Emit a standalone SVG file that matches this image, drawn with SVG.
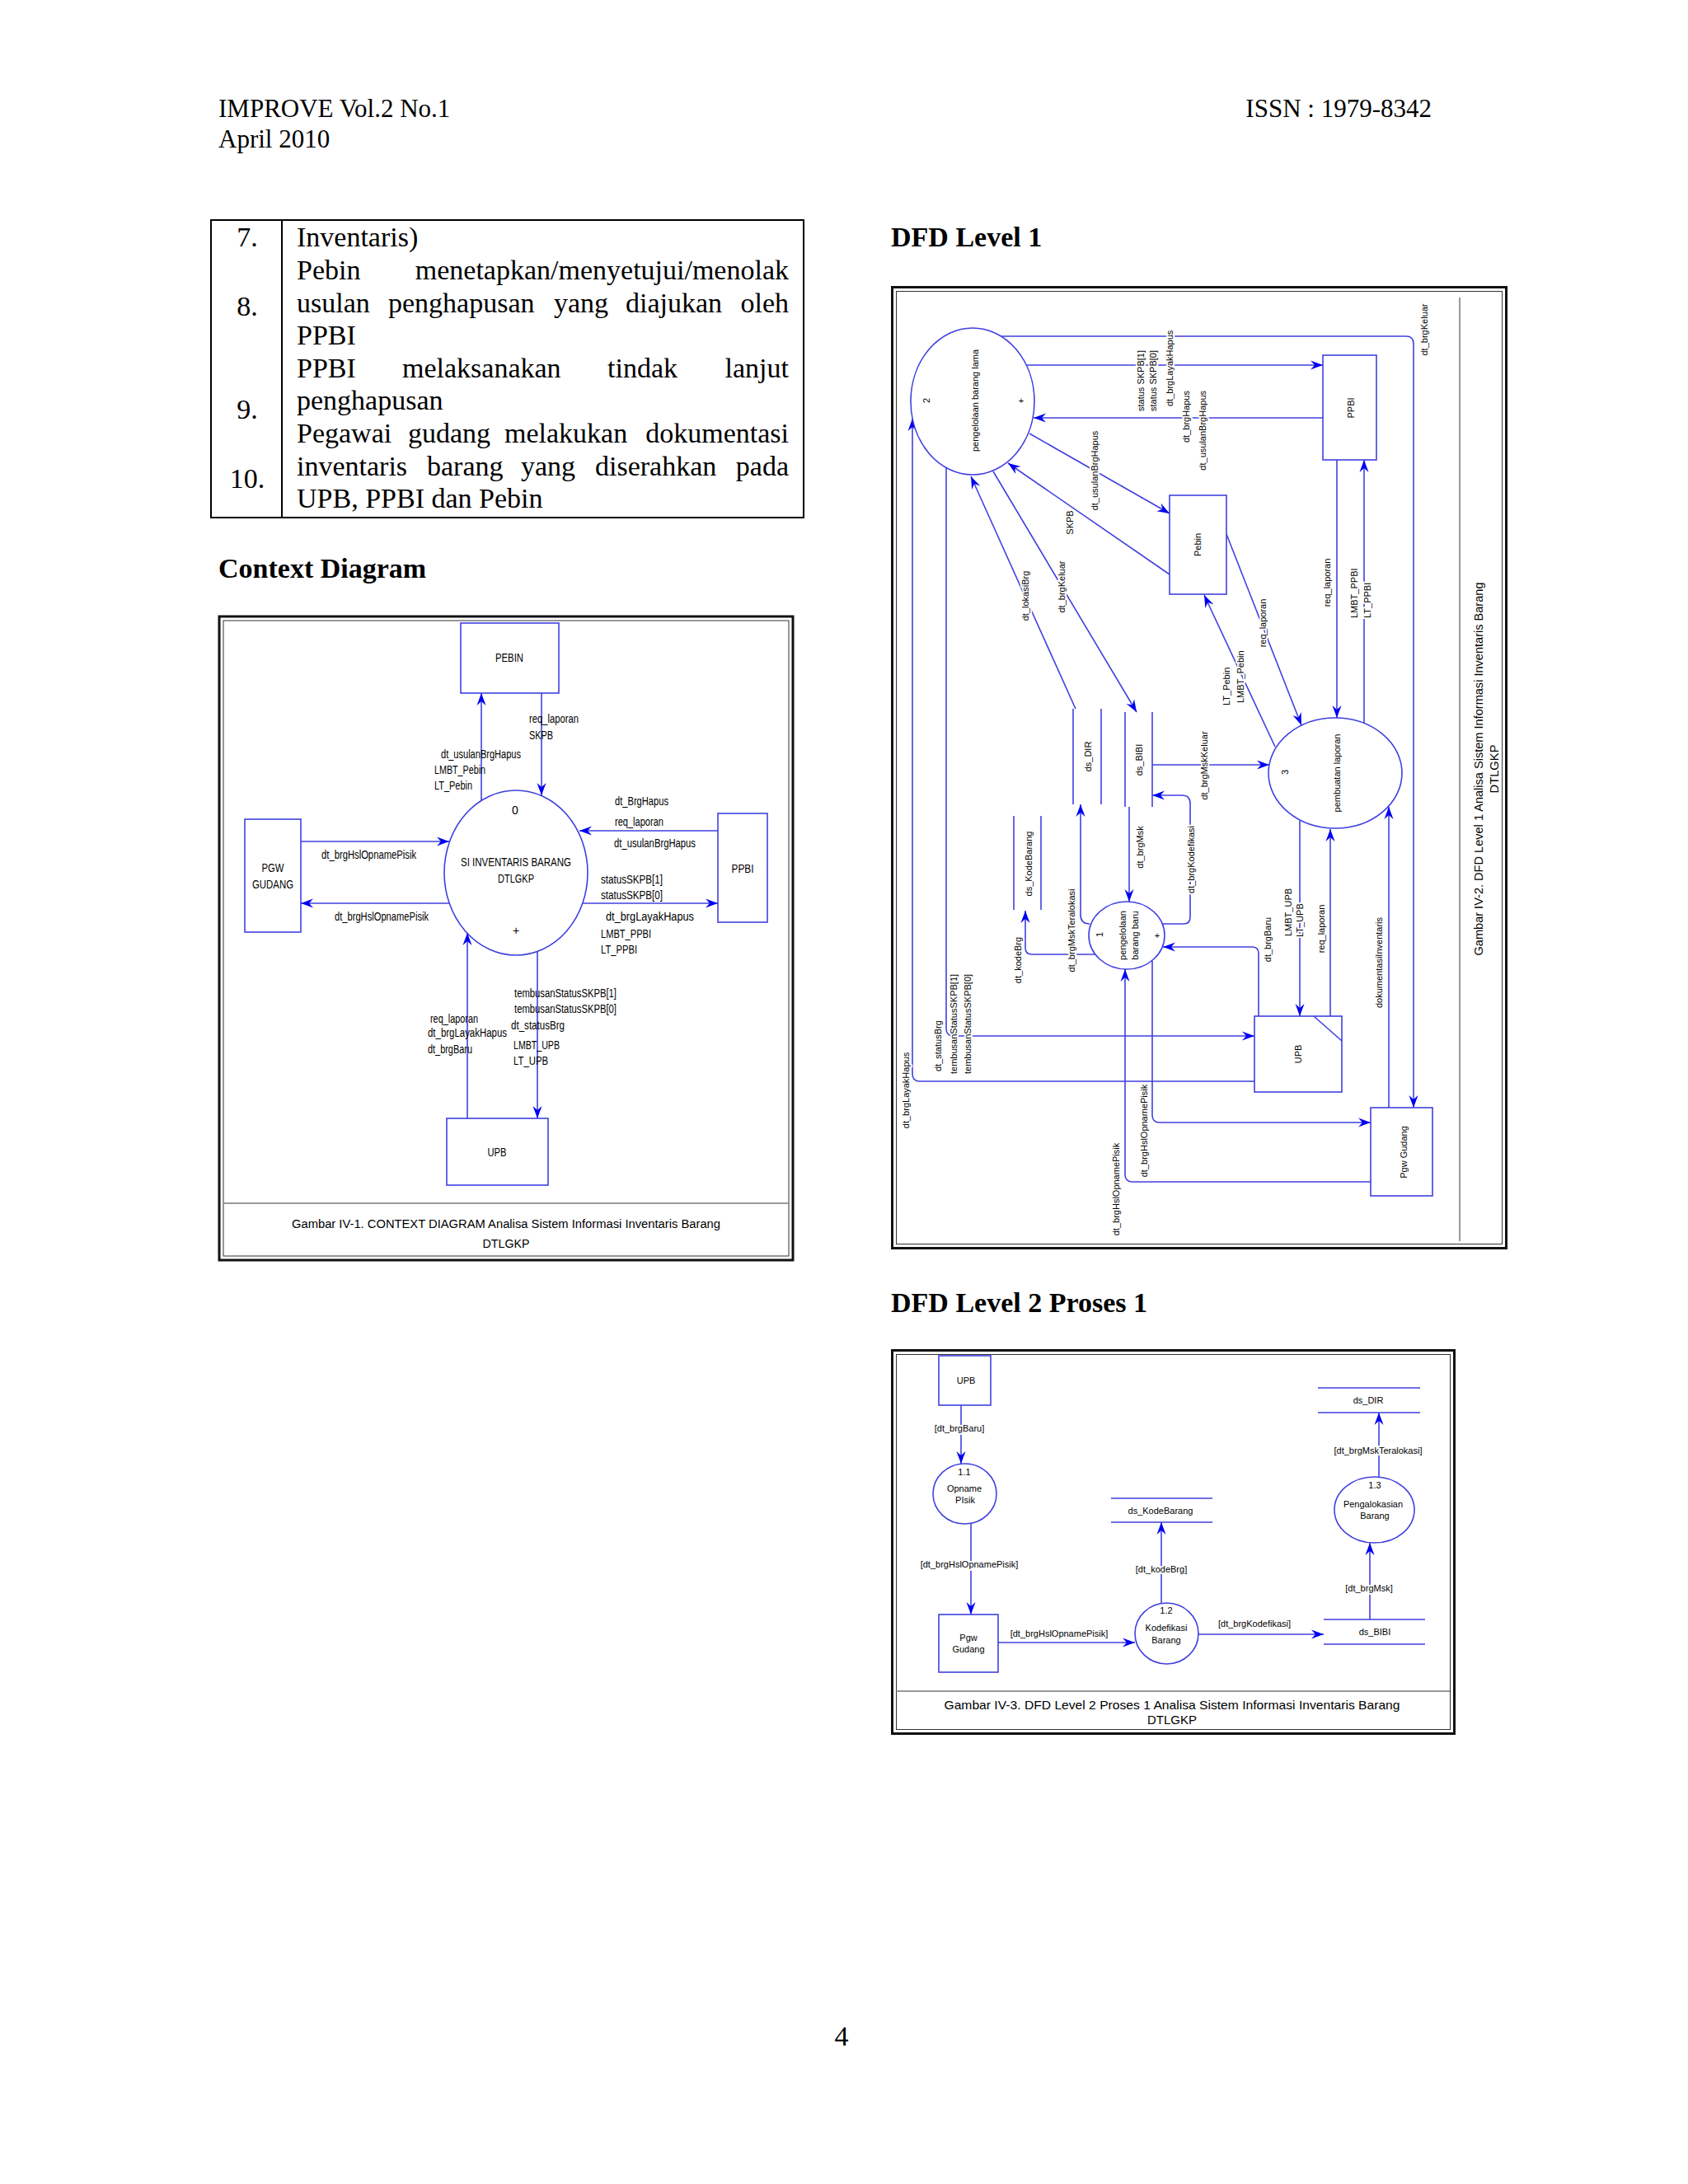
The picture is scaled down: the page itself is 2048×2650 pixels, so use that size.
<svg xmlns="http://www.w3.org/2000/svg" width="2048" height="2650" viewBox="0 0 2048 2650">
<defs>
<style>
.serif{font-family:'Liberation Serif','Times New Roman',serif;fill:#000}
.hd{font-size:31px}
.tb{font-size:34px}
.bold{font-weight:bold}
.ln{fill:none;stroke:#4040E0;stroke-width:1.6}
.nd{fill:#fff;stroke:#4040E0;stroke-width:1.6}
.ds{fill:none;stroke:#4040E0;stroke-width:1.6}
.cx{font-family:'Liberation Sans Narrow','Liberation Sans',Arial,sans-serif;font-size:14px;fill:#000}
.t11{font-family:'Liberation Sans',Arial,sans-serif;font-size:11px;fill:#000;dominant-baseline:central}
.h{stroke:#fff;stroke-width:4px;paint-order:stroke;stroke-linejoin:round}
.m{text-anchor:middle}
.e{text-anchor:end}
.cap{font-family:'Liberation Sans',Arial,sans-serif;font-size:15px;fill:#000}
.frO{fill:none;stroke:#111;stroke-width:3}
.frI{fill:none;stroke:#333;stroke-width:1}
.sep{stroke:#777;stroke-width:1.5}
</style>
<marker id="ah" viewBox="-16 -7 17 14" refX="0" refY="0" markerWidth="17" markerHeight="14" markerUnits="userSpaceOnUse" orient="auto">
<path d="M0,0 L-15,-5.5 L-10,0 L-15,5.5 Z" fill="#0000F0"/>
</marker>
</defs>
<rect width="2048" height="2650" fill="#fff"/>

<!-- header -->
<g id="header" class="serif hd">
<text x="265" y="142">IMPROVE Vol.2 No.1</text>
<text x="265" y="179">April 2010</text>
<text x="1737" y="142" text-anchor="end">ISSN : 1979-8342</text>
</g>

<!-- table -->
<g id="table">
<g stroke="#000" stroke-width="2" fill="none">
<rect x="256" y="267" width="719" height="361"/>
<line x1="342" y1="267" x2="342" y2="628"/>
</g>
<g class="serif tb">
<text x="300" y="299" text-anchor="middle">7.</text>
<text x="300" y="383" text-anchor="middle">8.</text>
<text x="300" y="508" text-anchor="middle">9.</text>
<text x="300" y="592" text-anchor="middle">10.</text>
<text x="360" y="299">Inventaris)</text>
<text x="360" y="339">Pebin</text>
<text x="957" y="339" text-anchor="end">menetapkan/menyetujui/menolak</text>
<text x="360" y="379">usulan</text>
<text x="471" y="379">penghapusan</text>
<text x="672" y="379">yang</text>
<text x="759" y="379">diajukan</text>
<text x="957" y="379" text-anchor="end">oleh</text>
<text x="360" y="418">PPBI</text>
<text x="360" y="458">PPBI</text>
<text x="488" y="458">melaksanakan</text>
<text x="737" y="458">tindak</text>
<text x="957" y="458" text-anchor="end">lanjut</text>
<text x="360" y="497">penghapusan</text>
<text x="360" y="537">Pegawai</text>
<text x="495" y="537">gudang</text>
<text x="612" y="537">melakukan</text>
<text x="957" y="537" text-anchor="end">dokumentasi</text>
<text x="360" y="577">inventaris</text>
<text x="518" y="577">barang</text>
<text x="632" y="577">yang</text>
<text x="722" y="577">diserahkan</text>
<text x="957" y="577" text-anchor="end">pada</text>
<text x="360" y="616">UPB, PPBI dan Pebin</text>
</g>
</g>

<g id="headings" class="serif tb bold">
<text x="265" y="701">Context Diagram</text>
<text x="1081" y="299">DFD Level 1</text>
<text x="1081" y="1592">DFD Level 2 Proses 1</text>
</g>
<text class="serif tb" x="1021" y="2482" text-anchor="middle">4</text>

<!-- ================= CONTEXT DIAGRAM ================= -->
<g id="context">
<rect class="frO" x="266" y="748" width="696" height="781"/>
<rect class="frI" x="271" y="753" width="686" height="771"/>
<line class="sep" x1="272" y1="1460" x2="957" y2="1460"/>
<text class="cx" x="614" y="1490" text-anchor="middle" font-size="18" textLength="520" lengthAdjust="spacingAndGlyphs">Gambar IV-1. CONTEXT DIAGRAM Analisa Sistem Informasi Inventaris Barang</text>
<text class="cx" x="614" y="1514" text-anchor="middle" font-size="18" textLength="57" lengthAdjust="spacingAndGlyphs">DTLGKP</text>

<g id="ctx-connectors">
<path class="ln" d="M584,971 V841" marker-end="url(#ah)"/>
<path class="ln" d="M657,841 V965" marker-end="url(#ah)"/>
<path class="ln" d="M871,1008 H703" marker-end="url(#ah)"/>
<path class="ln" d="M707,1096 H871" marker-end="url(#ah)"/>
<path class="ln" d="M365,1021 H545" marker-end="url(#ah)"/>
<path class="ln" d="M546,1096 H365" marker-end="url(#ah)"/>
<path class="ln" d="M567,1357 V1132" marker-end="url(#ah)"/>
<path class="ln" d="M652,1154 V1357" marker-end="url(#ah)"/>
</g>

<g id="ctx-pebin">
<rect class="nd" x="559" y="756" width="119" height="85"/>
<text class="cx" x="618" y="803" text-anchor="middle" textLength="34" lengthAdjust="spacingAndGlyphs">PEBIN</text>
</g>
<g id="ctx-process0">
<ellipse class="nd" cx="626" cy="1059" rx="87" ry="100"/>
<text class="cx" x="625" y="988" text-anchor="middle">0</text>
<text class="cx" x="626" y="1051" text-anchor="middle" textLength="134" lengthAdjust="spacingAndGlyphs">SI INVENTARIS BARANG</text>
<text class="cx" x="626" y="1071" text-anchor="middle" textLength="44" lengthAdjust="spacingAndGlyphs">DTLGKP</text>
<text class="cx" x="626" y="1134" text-anchor="middle" font-size="17">+</text>
</g>
<g id="ctx-pgw">
<rect class="nd" x="297" y="994" width="68" height="137"/>
<text class="cx" x="331" y="1058" text-anchor="middle" textLength="27" lengthAdjust="spacingAndGlyphs">PGW</text>
<text class="cx" x="331" y="1078" text-anchor="middle" textLength="50" lengthAdjust="spacingAndGlyphs">GUDANG</text>
</g>
<g id="ctx-ppbi">
<rect class="nd" x="871" y="987" width="60" height="132"/>
<text class="cx" x="901" y="1059" text-anchor="middle" textLength="27" lengthAdjust="spacingAndGlyphs">PPBI</text>
</g>
<g id="ctx-upb">
<rect class="nd" x="542" y="1357" width="123" height="81"/>
<text class="cx" x="603" y="1403" text-anchor="middle" textLength="23" lengthAdjust="spacingAndGlyphs">UPB</text>
</g>

<g id="ctx-labels" class="cx">
<text x="642" y="877" textLength="60" lengthAdjust="spacingAndGlyphs">req_laporan</text>
<text x="642" y="897" textLength="29" lengthAdjust="spacingAndGlyphs">SKPB</text>
<text x="535" y="920" textLength="97" lengthAdjust="spacingAndGlyphs">dt_usulanBrgHapus</text>
<text x="527" y="939" textLength="62" lengthAdjust="spacingAndGlyphs">LMBT_Pebin</text>
<text x="527" y="958" textLength="46" lengthAdjust="spacingAndGlyphs">LT_Pebin</text>
<text x="746" y="977" textLength="65" lengthAdjust="spacingAndGlyphs">dt_BrgHapus</text>
<text x="746" y="1002" textLength="59" lengthAdjust="spacingAndGlyphs">req_laporan</text>
<text x="745" y="1028" textLength="99" lengthAdjust="spacingAndGlyphs">dt_usulanBrgHapus</text>
<text x="390" y="1042" textLength="115" lengthAdjust="spacingAndGlyphs">dt_brgHslOpnamePisik</text>
<text x="729" y="1072" textLength="75" lengthAdjust="spacingAndGlyphs">statusSKPB[1]</text>
<text x="729" y="1091" textLength="75" lengthAdjust="spacingAndGlyphs">statusSKPB[0]</text>
<text x="406" y="1117" textLength="114" lengthAdjust="spacingAndGlyphs">dt_brgHslOpnamePisik</text>
<text x="735" y="1117" textLength="107" lengthAdjust="spacingAndGlyphs">dt_brgLayakHapus</text>
<text x="729" y="1138" textLength="61" lengthAdjust="spacingAndGlyphs">LMBT_PPBI</text>
<text x="729" y="1157" textLength="44" lengthAdjust="spacingAndGlyphs">LT_PPBI</text>
<text x="624" y="1210" textLength="124" lengthAdjust="spacingAndGlyphs">tembusanStatusSKPB[1]</text>
<text x="624" y="1229" textLength="124" lengthAdjust="spacingAndGlyphs">tembusanStatusSKPB[0]</text>
<text x="522" y="1241" textLength="58" lengthAdjust="spacingAndGlyphs">req_laporan</text>
<text x="620" y="1249" textLength="65" lengthAdjust="spacingAndGlyphs">dt_statusBrg</text>
<text x="519" y="1258" textLength="96" lengthAdjust="spacingAndGlyphs">dt_brgLayakHapus</text>
<text x="519" y="1278" textLength="54" lengthAdjust="spacingAndGlyphs">dt_brgBaru</text>
<text x="623" y="1273" textLength="56" lengthAdjust="spacingAndGlyphs">LMBT_UPB</text>
<text x="623" y="1292" textLength="42" lengthAdjust="spacingAndGlyphs">LT_UPB</text>
</g>
</g>

<!-- ================= DFD LEVEL 1 ================= -->
<g id="dfd1">
<rect class="frO" x="1082.5" y="348.5" width="745" height="1166"/>
<rect class="frI" x="1087.5" y="353.5" width="735" height="1156"/>
<line class="sep" x1="1771" y1="361" x2="1771" y2="1506"/>
<text class="cap" transform="translate(1799,933) rotate(-90)" text-anchor="middle" textLength="453" lengthAdjust="spacingAndGlyphs">Gambar IV-2. DFD Level 1 Analisa Sistem Informasi Inventaris Barang</text>
<text class="cap" transform="translate(1818,933) rotate(-90)" text-anchor="middle" textLength="59" lengthAdjust="spacingAndGlyphs">DTLGKP</text>

<g id="dfd1-connectors">
<path class="ln" d="M1214,408 H1706 Q1715,408 1715,417 V1344" marker-end="url(#ah)"/>
<path class="ln" d="M1245,443 H1605" marker-end="url(#ah)"/>
<path class="ln" d="M1605,507 H1254" marker-end="url(#ah)"/>
<path class="ln" d="M1249,526 L1419,623" marker-end="url(#ah)"/>
<path class="ln" d="M1419,697 L1223,562" marker-end="url(#ah)"/>
<path class="ln" d="M1305,860 L1178,578" marker-end="url(#ah)"/>
<path class="ln" d="M1205,572 L1379,864" marker-end="url(#ah)"/>
<path class="ln" d="M1322,1121 Q1311,1121 1311,1110 V976" marker-end="url(#ah)"/>
<path class="ln" d="M1370,979 V1094" marker-end="url(#ah)"/>
<path class="ln" d="M1410,1121 H1436 Q1444,1121 1444,1113 V975 Q1444,965 1434,965 H1398" marker-end="url(#ah)"/>
<path class="ln" d="M1398,928 H1540" marker-end="url(#ah)"/>
<path class="ln" d="M1329,1158 H1252 Q1244,1158 1244,1150 V1105" marker-end="url(#ah)"/>
<path class="ln" d="M1527,1233 V1157 Q1527,1149 1519,1149 H1411" marker-end="url(#ah)"/>
<path class="ln" d="M1577,996 V1233" marker-end="url(#ah)"/>
<path class="ln" d="M1614,1233 V1006" marker-end="url(#ah)"/>
<path class="ln" d="M1685,1344 V979" marker-end="url(#ah)"/>
<path class="ln" d="M1547,906 L1461,722" marker-end="url(#ah)"/>
<path class="ln" d="M1488,648 L1579,880" marker-end="url(#ah)"/>
<path class="ln" d="M1622,558 V871" marker-end="url(#ah)"/>
<path class="ln" d="M1655,878 V558" marker-end="url(#ah)"/>
<path class="ln" d="M1522,1312 H1116 Q1107,1312 1107,1303 V508" marker-end="url(#ah)"/>
<path class="ln" d="M1148,568 V1248 Q1148,1257 1157,1257 H1522" marker-end="url(#ah)"/>
<path class="ln" d="M1663,1434 H1374 Q1365,1434 1365,1425 V1176" marker-end="url(#ah)"/>
<path class="ln" d="M1398,1166 V1353 Q1398,1362 1407,1362 H1663" marker-end="url(#ah)"/>
</g>

<g id="dfd1-p2">
<ellipse class="nd" cx="1180" cy="487" rx="75" ry="89" fill="none"/>
<text class="t11 m" transform="translate(1124,486) rotate(-90)">2</text>
<text class="t11 m" transform="translate(1183,486) rotate(-90)">pengelolaan barang lama</text>
<text class="t11 m" x="1239" y="486" font-size="16">+</text>
</g>
<g id="dfd1-ppbi">
<rect class="nd" x="1605" y="431" width="65" height="127"/>
<text class="t11 m" transform="translate(1639,495) rotate(-90)">PPBI</text>
</g>
<g id="dfd1-pebin">
<rect class="nd" x="1419" y="601" width="69" height="120"/>
<text class="t11 m" transform="translate(1453,661) rotate(-90)">Pebin</text>
</g>
<g id="dfd1-dsdir">
<path class="ds" d="M1302,860 V976 M1336,860 V976"/>
<text class="t11 m" transform="translate(1320,918) rotate(-90)" font-size="11.5">ds_DIR</text>
</g>
<g id="dfd1-dsbibi">
<path class="ds" d="M1365,864 V979 M1398,864 V979"/>
<text class="t11 m" transform="translate(1382,922) rotate(-90)" font-size="11.5">ds_BIBI</text>
</g>
<g id="dfd1-dskode">
<path class="ds" d="M1230,990 V1104 M1263,990 V1104"/>
<text class="t11 m" transform="translate(1248,1048) rotate(-90)" font-size="11.5">ds_KodeBarang</text>
</g>
<g id="dfd1-p1">
<ellipse class="nd" cx="1367" cy="1135" rx="46" ry="41"/>
<text class="t11 m" transform="translate(1334,1134) rotate(-90)">1</text>
<text class="t11 m" transform="translate(1362,1135) rotate(-90)">pengelolaan</text>
<text class="t11 m" transform="translate(1377,1135) rotate(-90)">barang baru</text>
<text class="t11 m" x="1404" y="1135" font-size="16">+</text>
</g>
<g id="dfd1-p3">
<ellipse class="nd" cx="1620" cy="938" rx="81" ry="67"/>
<text class="t11 m" transform="translate(1559,937) rotate(-90)">3</text>
<text class="t11 m" transform="translate(1622,938) rotate(-90)">pembuatan laporan</text>
</g>
<g id="dfd1-upb">
<rect class="nd" x="1522" y="1233" width="106" height="92"/>
<line class="ln" x1="1594" y1="1233" x2="1628" y2="1263"/>
<text class="t11 m" transform="translate(1575,1279) rotate(-90)">UPB</text>
</g>
<g id="dfd1-pgw">
<rect class="nd" x="1663" y="1344" width="75" height="107"/>
<text class="t11 m" transform="translate(1703,1398) rotate(-90)" font-size="11.5">Pgw Gudang</text>
</g>

<g id="dfd1-labels" class="t11 h">
<text transform="translate(1384,499) rotate(-90)">status SKPB[1]</text>
<text transform="translate(1399,499) rotate(-90)">status SKPB[0]</text>
<text transform="translate(1419,493) rotate(-90)">dt_brgLayakHapus</text>
<text class="e" transform="translate(1439,474) rotate(-90)">dt_brgHapus</text>
<text class="e" transform="translate(1459,474) rotate(-90)">dt_usulanBrgHapus</text>
<text class="m" transform="translate(1728,400) rotate(-90)">dt_brgKeluar</text>
<text class="m" transform="translate(1328,571) rotate(-90)">dt_usulanBrgHapus</text>
<text class="m" transform="translate(1298,634) rotate(-90)">SKPB</text>
<text class="m" transform="translate(1244,723) rotate(-90)">dt_lokasiBrg</text>
<text class="m" transform="translate(1288,712) rotate(-90)">dt_brgKeluar</text>
<text class="m" transform="translate(1383,1028) rotate(-90)">dt_brgMsk</text>
<text class="m" transform="translate(1445,1043) rotate(-90)">dt_brgKodefikasi</text>
<text class="m" transform="translate(1461,929) rotate(-90)">dt_brgMskKeluar</text>
<text class="m" transform="translate(1300,1129) rotate(-90)">dt_brgMskTeralokasi</text>
<text class="m" transform="translate(1235,1165) rotate(-90)">dt_kodeBrg</text>
<text class="m" transform="translate(1538,1140) rotate(-90)">dt_brgBaru</text>
<text transform="translate(1563,1136) rotate(-90)">LMBT_UPB</text>
<text transform="translate(1577,1137) rotate(-90)">LT_UPB</text>
<text class="m" transform="translate(1603,1127) rotate(-90)">req_laporan</text>
<text class="m" transform="translate(1673,1168) rotate(-90)">dokumentasiInventaris</text>
<text transform="translate(1488,856) rotate(-90)">LT_Pebin</text>
<text transform="translate(1505,853) rotate(-90)">LMBT_Pebin</text>
<text class="m" transform="translate(1532,756) rotate(-90)">req_laporan</text>
<text class="m" transform="translate(1610,707) rotate(-90)">req_laporan</text>
<text transform="translate(1643,750) rotate(-90)">LMBT_PPBI</text>
<text transform="translate(1659,750) rotate(-90)">LT_PPBI</text>
<text class="m" transform="translate(1099,1323) rotate(-90)">dt_brgLayakHapus</text>
<text transform="translate(1138,1300) rotate(-90)">dt_statusBrg</text>
<text transform="translate(1157,1303) rotate(-90)">tembusanStatusSKPB[1]</text>
<text transform="translate(1174,1303) rotate(-90)">tembusanStatusSKPB[0]</text>
<text class="m" transform="translate(1354,1443) rotate(-90)">dt_brgHslOpnamePisik</text>
<text class="m" transform="translate(1388,1372) rotate(-90)">dt_brgHslOpnamePisik</text>
</g>
</g>

<!-- ================= DFD LEVEL 2 ================= -->
<g id="dfd2">
<rect class="frO" x="1082.5" y="1638.5" width="682" height="465"/>
<rect class="frI" x="1087.5" y="1643.5" width="672" height="455"/>
<line class="sep" x1="1087" y1="2052" x2="1759" y2="2052"/>
<text class="cap" x="1422" y="2074" text-anchor="middle" textLength="553" lengthAdjust="spacingAndGlyphs">Gambar IV-3. DFD Level 2 Proses 1 Analisa Sistem Informasi Inventaris Barang</text>
<text class="cap" x="1422" y="2092" text-anchor="middle">DTLGKP</text>

<g id="dfd2-connectors">
<path class="ln" d="M1166,1705 V1776" marker-end="url(#ah)"/>
<path class="ln" d="M1178,1849 V1959" marker-end="url(#ah)"/>
<path class="ln" d="M1211,1993 H1377" marker-end="url(#ah)"/>
<path class="ln" d="M1409,1945 V1847" marker-end="url(#ah)"/>
<path class="ln" d="M1454,1983 H1606" marker-end="url(#ah)"/>
<path class="ln" d="M1662,1965 V1872" marker-end="url(#ah)"/>
<path class="ln" d="M1673,1792 V1714" marker-end="url(#ah)"/>
</g>

<g id="dfd2-upb">
<rect class="nd" x="1139" y="1645" width="63" height="60"/>
<text class="t11 m" x="1172" y="1675">UPB</text>
</g>
<g id="dfd2-p11">
<ellipse class="nd" cx="1170.5" cy="1812.5" rx="38.5" ry="36.5"/>
<text class="t11 m" x="1170" y="1786">1.1</text>
<text class="t11 m" x="1170" y="1806">Opname</text>
<text class="t11 m" x="1171" y="1820">PIsik</text>
</g>
<g id="dfd2-pgw">
<rect class="nd" x="1139" y="1959" width="72" height="70"/>
<text class="t11 m" x="1175" y="1987">Pgw</text>
<text class="t11 m" x="1175" y="2001">Gudang</text>
</g>
<g id="dfd2-p12">
<ellipse class="nd" cx="1415.5" cy="1982" rx="38.5" ry="37"/>
<text class="t11 m" x="1415" y="1954">1.2</text>
<text class="t11 m" x="1415" y="1975">Kodefikasi</text>
<text class="t11 m" x="1415" y="1990">Barang</text>
</g>
<g id="dfd2-dskode">
<path class="ds" d="M1348,1818 H1471 M1348,1847 H1471"/>
<text class="t11 m" x="1408" y="1833">ds_KodeBarang</text>
</g>
<g id="dfd2-dsbibi">
<path class="ds" d="M1606,1965 H1729 M1606,1995 H1729"/>
<text class="t11 m" x="1668" y="1980">ds_BIBI</text>
</g>
<g id="dfd2-p13">
<ellipse class="nd" cx="1667.5" cy="1832" rx="48.5" ry="40"/>
<text class="t11 m" x="1668" y="1802">1.3</text>
<text class="t11 m" x="1666" y="1825">Pengalokasian</text>
<text class="t11 m" x="1668" y="1839">Barang</text>
</g>
<g id="dfd2-dsdir">
<path class="ds" d="M1599,1684 H1723 M1599,1714 H1723"/>
<text class="t11 m" x="1660" y="1699">ds_DIR</text>
</g>

<g id="dfd2-labels" class="t11 h m">
<text x="1164" y="1733">[dt_brgBaru]</text>
<text x="1176" y="1898">[dt_brgHslOpnamePisik]</text>
<text x="1285" y="1982">[dt_brgHslOpnamePisik]</text>
<text x="1409" y="1904">[dt_kodeBrg]</text>
<text x="1522" y="1970">[dt_brgKodefikasi]</text>
<text x="1661" y="1927">[dt_brgMsk]</text>
<text x="1672" y="1760">[dt_brgMskTeralokasi]</text>
</g>
</g>
</svg>
